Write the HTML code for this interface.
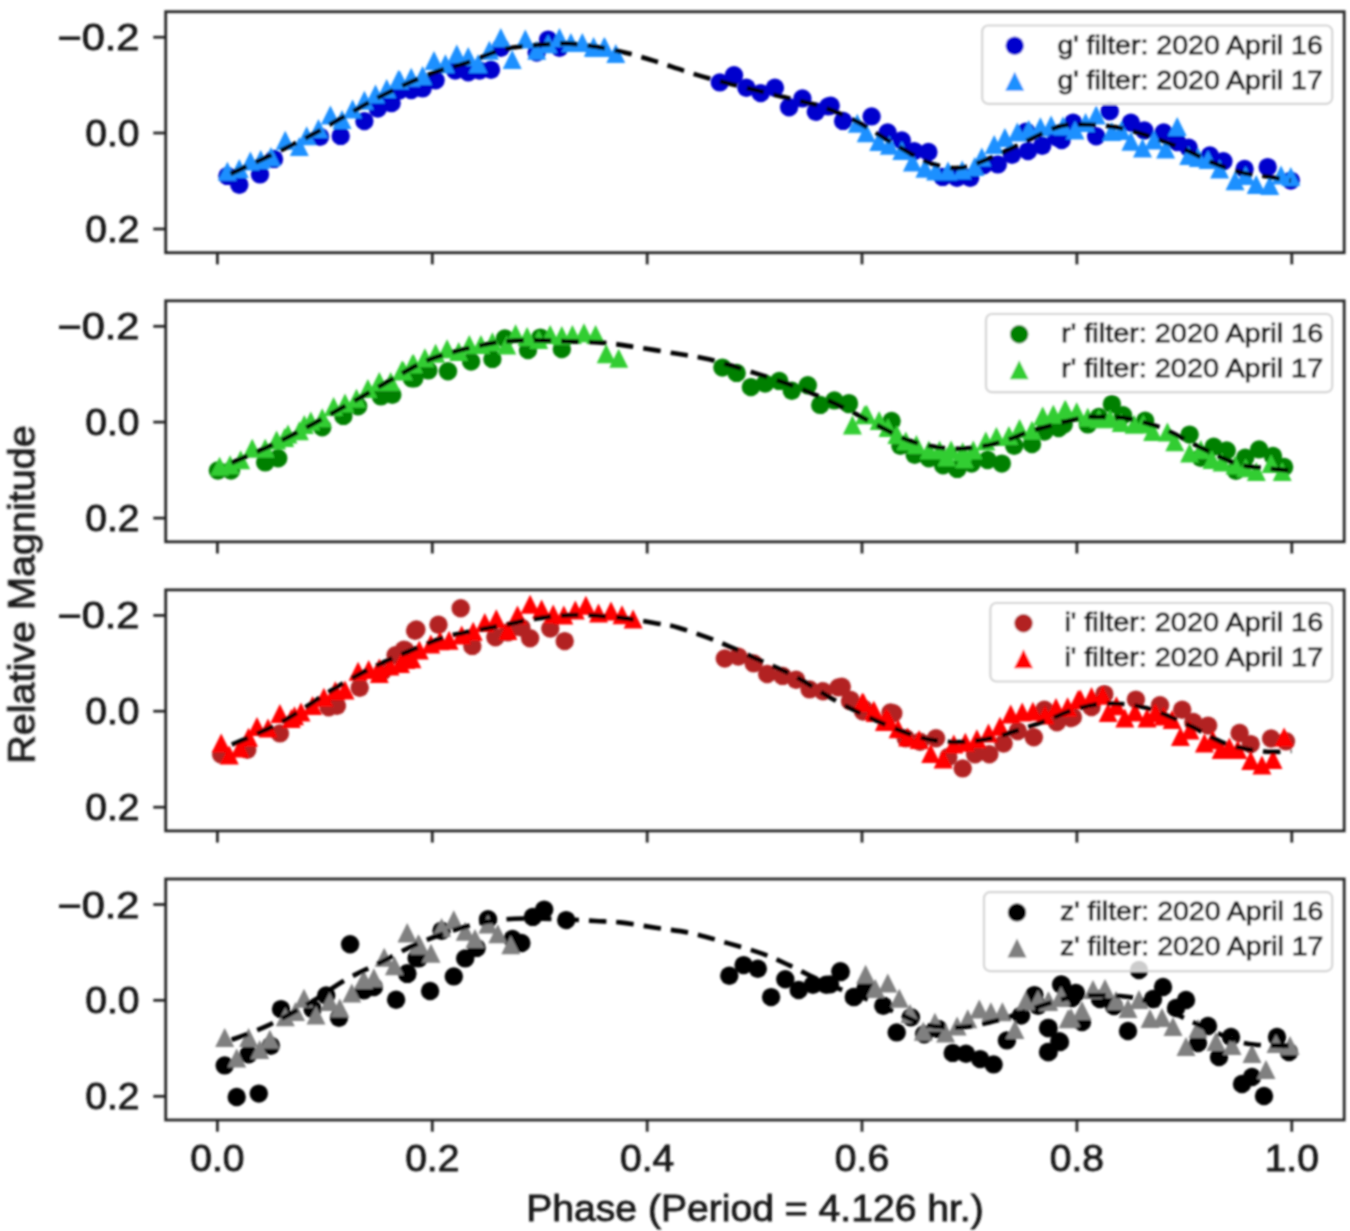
<!DOCTYPE html><html><head><meta charset="utf-8"><style>html,body{margin:0;padding:0;background:#fff;width:1350px;height:1231px;overflow:hidden}svg{display:block}text{font-family:"Liberation Sans",sans-serif;fill:#1a1a1a;stroke:#1a1a1a;stroke-width:0.8}</style></head><body>
<svg width="1350" height="1231" viewBox="0 0 1350 1231">
<defs><filter id="bl" x="0" y="0" width="1350" height="1231" filterUnits="userSpaceOnUse"><feConvolveMatrix order="5" kernelMatrix="0.0050 0.0173 0.0262 0.0173 0.0050 0.0173 0.0598 0.0903 0.0598 0.0173 0.0262 0.0903 0.1366 0.0903 0.0262 0.0173 0.0598 0.0903 0.0598 0.0173 0.0050 0.0173 0.0262 0.0173 0.0050" preserveAlpha="false" edgeMode="duplicate"/></filter></defs><rect width="1350" height="1231" fill="#fff"/><g filter="url(#bl)">
<g clip-path="url(#c0)">
<clipPath id="c0"><rect x="165.7" y="11.7" width="1178.5" height="241.0"/></clipPath>
<g fill="#0000cd"><circle cx="227.4" cy="175.9" r="9.2"/><circle cx="239.3" cy="184.8" r="9.2"/><circle cx="260.0" cy="174.4" r="9.2"/><circle cx="274.0" cy="158.9" r="9.2"/><circle cx="320.0" cy="136.7" r="9.2"/><circle cx="340.7" cy="135.9" r="9.2"/><circle cx="364.4" cy="121.1" r="9.2"/><circle cx="377.8" cy="108.5" r="9.2"/><circle cx="389.6" cy="102.6" r="9.2"/><circle cx="398.5" cy="90.7" r="9.2"/><circle cx="391.6" cy="103.1" r="9.2"/><circle cx="399.8" cy="90.1" r="9.2"/><circle cx="411.2" cy="90.1" r="9.2"/><circle cx="422.6" cy="88.4" r="9.2"/><circle cx="435.6" cy="80.3" r="9.2"/><circle cx="455.2" cy="70.5" r="9.2"/><circle cx="468.2" cy="72.2" r="9.2"/><circle cx="479.6" cy="70.5" r="9.2"/><circle cx="491.0" cy="69.7" r="9.2"/><circle cx="500.8" cy="47.7" r="9.2"/><circle cx="536.7" cy="52.6" r="9.2"/><circle cx="548.1" cy="39.6" r="9.2"/><circle cx="559.5" cy="47.7" r="9.2"/><circle cx="719.8" cy="82.4" r="9.2"/><circle cx="734.0" cy="75.3" r="9.2"/><circle cx="746.4" cy="87.8" r="9.2"/><circle cx="760.7" cy="93.1" r="9.2"/><circle cx="774.9" cy="87.8" r="9.2"/><circle cx="789.1" cy="107.3" r="9.2"/><circle cx="802.4" cy="98.4" r="9.2"/><circle cx="815.8" cy="111.8" r="9.2"/><circle cx="828.2" cy="106.4" r="9.2"/><circle cx="830.7" cy="105.8" r="9.2"/><circle cx="843.1" cy="120.9" r="9.2"/><circle cx="871.6" cy="116.4" r="9.2"/><circle cx="887.6" cy="132.4" r="9.2"/><circle cx="901.8" cy="140.4" r="9.2"/><circle cx="914.2" cy="151.1" r="9.2"/><circle cx="928.4" cy="152.0" r="9.2"/><circle cx="942.7" cy="176.9" r="9.2"/><circle cx="956.9" cy="177.8" r="9.2"/><circle cx="970.2" cy="177.8" r="9.2"/><circle cx="983.6" cy="165.3" r="9.2"/><circle cx="997.8" cy="164.4" r="9.2"/><circle cx="1012.0" cy="154.7" r="9.2"/><circle cx="1028.0" cy="151.1" r="9.2"/><circle cx="1026.2" cy="131.6" r="9.2"/><circle cx="1042.2" cy="145.8" r="9.2"/><circle cx="1056.4" cy="136.9" r="9.2"/><circle cx="1061.6" cy="140.1" r="9.2"/><circle cx="1073.1" cy="122.8" r="9.2"/><circle cx="1096.2" cy="136.2" r="9.2"/><circle cx="1109.7" cy="111.2" r="9.2"/><circle cx="1130.9" cy="122.8" r="9.2"/><circle cx="1144.4" cy="130.5" r="9.2"/><circle cx="1163.7" cy="132.4" r="9.2"/><circle cx="1177.2" cy="142.0" r="9.2"/><circle cx="1188.7" cy="147.8" r="9.2"/><circle cx="1209.9" cy="155.5" r="9.2"/><circle cx="1223.4" cy="161.3" r="9.2"/><circle cx="1244.6" cy="169.0" r="9.2"/><circle cx="1267.7" cy="167.1" r="9.2"/><circle cx="1290.8" cy="180.6" r="9.2"/></g>
<path d="M227.4 161.8l-9.5 19.0h19.0zM239.3 158.9l-9.5 19.0h19.0zM250.4 151.5l-9.5 19.0h19.0zM260.7 150.0l-9.5 19.0h19.0zM271.0 147.0l-9.5 19.0h19.0zM285.2 130.7l-9.5 19.0h19.0zM299.3 136.9l-9.5 19.0h19.0zM306.7 126.3l-9.5 19.0h19.0zM318.5 118.9l-9.5 19.0h19.0zM330.4 105.5l-9.5 19.0h19.0zM342.0 110.0l-9.5 19.0h19.0zM352.6 99.5l-9.5 19.0h19.0zM364.4 90.7l-9.5 19.0h19.0zM386.7 78.9l-9.5 19.0h19.0zM398.5 70.0l-9.5 19.0h19.0zM399.8 70.5l-9.5 19.0h19.0zM411.2 67.8l-9.5 19.0h19.0zM422.6 66.1l-9.5 19.0h19.0zM434.0 51.0l-9.5 19.0h19.0zM445.4 54.2l-9.5 19.0h19.0zM456.8 44.5l-9.5 19.0h19.0zM468.2 46.9l-9.5 19.0h19.0zM478.0 54.2l-9.5 19.0h19.0zM500.8 27.9l-9.5 19.0h19.0zM512.2 49.9l-9.5 19.0h19.0zM525.3 29.5l-9.5 19.0h19.0zM536.7 40.7l-9.5 19.0h19.0zM559.5 28.1l-9.5 19.0h19.0zM570.9 33.0l-9.5 19.0h19.0zM582.3 33.0l-9.5 19.0h19.0zM593.7 37.9l-9.5 19.0h19.0zM605.1 37.9l-9.5 19.0h19.0zM593.6 37.1l-9.5 19.0h19.0zM604.2 37.1l-9.5 19.0h19.0zM615.8 43.9l-9.5 19.0h19.0zM857.3 113.7l-9.5 19.0h19.0zM866.2 123.2l-9.5 19.0h19.0zM878.7 132.1l-9.5 19.0h19.0zM889.3 135.7l-9.5 19.0h19.0zM901.8 141.0l-9.5 19.0h19.0zM912.4 152.6l-9.5 19.0h19.0zM924.9 158.8l-9.5 19.0h19.0zM935.6 161.5l-9.5 19.0h19.0zM948.0 161.5l-9.5 19.0h19.0zM962.2 160.6l-9.5 19.0h19.0zM974.7 157.0l-9.5 19.0h19.0zM981.8 147.5l-9.5 19.0h19.0zM994.2 135.0l-9.5 19.0h19.0zM1004.9 127.9l-9.5 19.0h19.0zM1017.3 122.5l-9.5 19.0h19.0zM1040.4 117.2l-9.5 19.0h19.0zM1051.1 115.4l-9.5 19.0h19.0zM1096.2 105.4l-9.5 19.0h19.0zM1075.0 120.5l-9.5 19.0h19.0zM1111.7 122.1l-9.5 19.0h19.0zM1130.9 131.7l-9.5 19.0h19.0zM1142.5 138.5l-9.5 19.0h19.0zM1165.6 139.5l-9.5 19.0h19.0zM1177.2 116.9l-9.5 19.0h19.0zM1188.7 146.1l-9.5 19.0h19.0zM1208.0 150.0l-9.5 19.0h19.0zM1219.6 159.6l-9.5 19.0h19.0zM1235.0 171.2l-9.5 19.0h19.0zM1256.2 175.0l-9.5 19.0h19.0zM1269.7 176.0l-9.5 19.0h19.0zM1290.8 167.0l-9.5 19.0h19.0zM1281.0 165.5l-9.5 19.0h19.0zM375.5 84.6l-9.5 19.0h19.0zM489.4 40.7l-9.5 19.0h19.0zM548.1 34.3l-9.5 19.0h19.0zM1028.8 120.0l-9.5 19.0h19.0zM1063.0 116.6l-9.5 19.0h19.0zM1085.6 112.9l-9.5 19.0h19.0zM1121.3 120.9l-9.5 19.0h19.0zM1154.0 130.4l-9.5 19.0h19.0zM1198.3 148.0l-9.5 19.0h19.0zM1245.6 166.1l-9.5 19.0h19.0z" fill="#1e90ff"/>
<path d="M226.7 175.6C239.2 169.7 276.8 153.0 302.0 140.0C327.2 127.0 356.4 108.8 377.8 97.8C399.2 86.8 415.6 79.7 430.7 73.8C445.8 67.9 456.0 66.5 468.2 62.4C480.4 58.3 491.2 52.3 504.0 49.3C516.8 46.3 533.9 45.3 544.8 44.4C555.7 43.5 559.8 43.0 569.3 43.6C578.8 44.2 591.6 46.0 601.9 47.7C612.2 49.4 621.6 51.6 630.9 54.0C640.2 56.4 648.7 59.2 657.6 62.0C666.5 64.8 675.3 68.1 684.2 70.9C693.1 73.7 699.9 75.9 710.9 78.9C721.9 81.9 737.5 85.6 750.0 88.7C762.5 91.8 773.8 94.6 785.6 97.6C797.5 100.5 809.4 102.5 821.1 106.4C832.8 110.3 843.9 114.9 855.6 120.9C867.3 126.9 879.2 135.4 891.1 142.2C903.0 149.0 916.3 157.5 926.7 161.8C937.1 166.1 945.9 167.4 953.3 168.0C960.7 168.6 963.7 167.5 971.1 165.3C978.5 163.1 988.9 158.5 997.8 154.7C1006.7 150.8 1014.0 146.9 1024.4 142.2C1034.8 137.4 1049.3 129.1 1060.0 126.2C1070.7 123.3 1078.9 124.5 1088.5 124.7C1098.1 124.9 1107.8 125.8 1117.4 127.6C1127.0 129.4 1135.0 131.6 1146.3 135.3C1157.5 139.0 1173.7 145.0 1184.9 149.7C1196.2 154.3 1204.2 159.3 1213.8 163.2C1223.4 167.1 1234.7 170.8 1242.7 172.9C1250.7 175.0 1254.0 174.4 1262.0 175.7C1270.0 177.0 1286.0 179.8 1290.8 180.6" fill="none" stroke="#000" stroke-width="4.6" stroke-dasharray="17.5 10" stroke-dashoffset="23"/>
</g>
<rect x="165.7" y="11.7" width="1178.5" height="241.0" fill="none" stroke="#262626" stroke-width="2.8"/>
<line x1="153.3" y1="37.2" x2="165.7" y2="37.2" stroke="#262626" stroke-width="2.8"/>
<text x="139.5" y="37.7" font-size="36" text-anchor="end" dominant-baseline="central" textLength="82.1" lengthAdjust="spacingAndGlyphs">−0.2</text>
<line x1="153.3" y1="133.0" x2="165.7" y2="133.0" stroke="#262626" stroke-width="2.8"/>
<text x="139.5" y="133.5" font-size="36" text-anchor="end" dominant-baseline="central" textLength="54.3" lengthAdjust="spacingAndGlyphs">0.0</text>
<line x1="153.3" y1="229.0" x2="165.7" y2="229.0" stroke="#262626" stroke-width="2.8"/>
<text x="139.5" y="229.5" font-size="36" text-anchor="end" dominant-baseline="central" textLength="54.3" lengthAdjust="spacingAndGlyphs">0.2</text>
<line x1="217.4" y1="252.7" x2="217.4" y2="264.4" stroke="#262626" stroke-width="2.8"/>
<line x1="432.3" y1="252.7" x2="432.3" y2="264.4" stroke="#262626" stroke-width="2.8"/>
<line x1="647.2" y1="252.7" x2="647.2" y2="264.4" stroke="#262626" stroke-width="2.8"/>
<line x1="862.0" y1="252.7" x2="862.0" y2="264.4" stroke="#262626" stroke-width="2.8"/>
<line x1="1076.9" y1="252.7" x2="1076.9" y2="264.4" stroke="#262626" stroke-width="2.8"/>
<line x1="1291.8" y1="252.7" x2="1291.8" y2="264.4" stroke="#262626" stroke-width="2.8"/>
<rect x="982.2" y="25.5" width="350.0" height="78.3" rx="6" fill="#fff" fill-opacity="0.8" stroke="#d4d4d4" stroke-width="2.2"/>
<circle cx="1014.7" cy="45.7" r="9.2" fill="#0000cd"/>
<path d="M1014.7 71.8l-9.5 19h19z" fill="#1e90ff"/>
<text x="1057.4" y="53.5" font-size="25" textLength="265.4" lengthAdjust="spacingAndGlyphs">g' filter: 2020 April 16</text>
<text x="1057.4" y="88.5" font-size="25" textLength="265.4" lengthAdjust="spacingAndGlyphs">g' filter: 2020 April 17</text>
<g clip-path="url(#c1)">
<clipPath id="c1"><rect x="165.7" y="300.8" width="1178.5" height="241.0"/></clipPath>
<g fill="#008000"><circle cx="217.9" cy="470.5" r="9.2"/><circle cx="231.0" cy="470.5" r="9.2"/><circle cx="265.2" cy="462.4" r="9.2"/><circle cx="278.2" cy="458.3" r="9.2"/><circle cx="322.2" cy="427.3" r="9.2"/><circle cx="343.4" cy="415.9" r="9.2"/><circle cx="358.1" cy="406.2" r="9.2"/><circle cx="380.9" cy="396.4" r="9.2"/><circle cx="392.3" cy="394.7" r="9.2"/><circle cx="411.9" cy="378.4" r="9.2"/><circle cx="414.2" cy="378.4" r="9.2"/><circle cx="428.4" cy="370.4" r="9.2"/><circle cx="448.0" cy="371.3" r="9.2"/><circle cx="471.1" cy="361.6" r="9.2"/><circle cx="492.4" cy="358.9" r="9.2"/><circle cx="504.9" cy="338.4" r="9.2"/><circle cx="528.0" cy="350.0" r="9.2"/><circle cx="540.4" cy="337.6" r="9.2"/><circle cx="561.8" cy="349.1" r="9.2"/><circle cx="722.4" cy="367.6" r="9.2"/><circle cx="736.7" cy="372.9" r="9.2"/><circle cx="750.9" cy="387.1" r="9.2"/><circle cx="765.1" cy="383.6" r="9.2"/><circle cx="779.3" cy="380.9" r="9.2"/><circle cx="791.8" cy="390.7" r="9.2"/><circle cx="807.8" cy="385.3" r="9.2"/><circle cx="820.2" cy="404.9" r="9.2"/><circle cx="834.4" cy="400.4" r="9.2"/><circle cx="848.7" cy="404.0" r="9.2"/><circle cx="848.9" cy="403.1" r="9.2"/><circle cx="891.6" cy="420.9" r="9.2"/><circle cx="900.4" cy="445.8" r="9.2"/><circle cx="914.7" cy="454.7" r="9.2"/><circle cx="928.9" cy="458.2" r="9.2"/><circle cx="943.1" cy="465.3" r="9.2"/><circle cx="957.3" cy="468.9" r="9.2"/><circle cx="971.6" cy="463.6" r="9.2"/><circle cx="987.6" cy="460.0" r="9.2"/><circle cx="1001.8" cy="463.6" r="9.2"/><circle cx="1014.2" cy="445.8" r="9.2"/><circle cx="1032.0" cy="444.0" r="9.2"/><circle cx="1044.4" cy="431.6" r="9.2"/><circle cx="1058.7" cy="428.0" r="9.2"/><circle cx="1063.7" cy="424.4" r="9.2"/><circle cx="1087.8" cy="424.4" r="9.2"/><circle cx="1098.9" cy="417.0" r="9.2"/><circle cx="1111.9" cy="404.1" r="9.2"/><circle cx="1123.0" cy="415.2" r="9.2"/><circle cx="1145.2" cy="420.7" r="9.2"/><circle cx="1189.6" cy="434.6" r="9.2"/><circle cx="1200.7" cy="457.8" r="9.2"/><circle cx="1213.7" cy="446.7" r="9.2"/><circle cx="1226.7" cy="450.4" r="9.2"/><circle cx="1235.9" cy="470.7" r="9.2"/><circle cx="1245.2" cy="457.8" r="9.2"/><circle cx="1259.1" cy="449.4" r="9.2"/><circle cx="1273.0" cy="455.9" r="9.2"/><circle cx="1284.1" cy="467.0" r="9.2"/></g>
<path d="M219.6 456.7l-9.5 19.0h19.0zM240.7 450.2l-9.5 19.0h19.0zM252.2 438.7l-9.5 19.0h19.0zM265.2 438.7l-9.5 19.0h19.0zM276.6 430.6l-9.5 19.0h19.0zM288.0 424.5l-9.5 19.0h19.0zM299.4 421.3l-9.5 19.0h19.0zM310.8 411.5l-9.5 19.0h19.0zM322.2 408.3l-9.5 19.0h19.0zM333.6 396.9l-9.5 19.0h19.0zM345.0 393.6l-9.5 19.0h19.0zM356.5 388.7l-9.5 19.0h19.0zM367.9 378.9l-9.5 19.0h19.0zM379.3 371.9l-9.5 19.0h19.0zM390.7 371.9l-9.5 19.0h19.0zM402.1 360.5l-9.5 19.0h19.0zM413.5 354.0l-9.5 19.0h19.0zM304.3 414.9l-9.5 19.0h19.0zM284.7 427.9l-9.5 19.0h19.0zM403.6 361.6l-9.5 19.0h19.0zM412.4 354.5l-9.5 19.0h19.0zM424.9 348.2l-9.5 19.0h19.0zM435.6 343.8l-9.5 19.0h19.0zM447.1 339.3l-9.5 19.0h19.0zM458.7 342.0l-9.5 19.0h19.0zM469.3 334.9l-9.5 19.0h19.0zM480.9 334.9l-9.5 19.0h19.0zM492.4 332.2l-9.5 19.0h19.0zM515.6 324.2l-9.5 19.0h19.0zM527.1 326.9l-9.5 19.0h19.0zM550.2 325.1l-9.5 19.0h19.0zM561.8 326.0l-9.5 19.0h19.0zM572.4 325.1l-9.5 19.0h19.0zM584.0 323.3l-9.5 19.0h19.0zM595.6 325.1l-9.5 19.0h19.0zM606.2 344.3l-9.5 19.0h19.0zM618.7 348.8l-9.5 19.0h19.0zM506.7 335.5l-9.5 19.0h19.0zM538.7 330.1l-9.5 19.0h19.0zM864.7 405.2l-9.5 19.0h19.0zM852.4 415.5l-9.5 19.0h19.0zM866.7 404.8l-9.5 19.0h19.0zM879.1 411.0l-9.5 19.0h19.0zM905.8 431.5l-9.5 19.0h19.0zM916.4 435.0l-9.5 19.0h19.0zM928.9 440.4l-9.5 19.0h19.0zM939.6 440.4l-9.5 19.0h19.0zM951.1 440.4l-9.5 19.0h19.0zM962.7 442.2l-9.5 19.0h19.0zM973.3 440.4l-9.5 19.0h19.0zM985.8 431.5l-9.5 19.0h19.0zM996.4 427.0l-9.5 19.0h19.0zM1008.9 426.1l-9.5 19.0h19.0zM1019.6 419.0l-9.5 19.0h19.0zM1032.0 420.8l-9.5 19.0h19.0zM1042.7 406.6l-9.5 19.0h19.0zM1053.3 404.8l-9.5 19.0h19.0zM1064.9 400.3l-9.5 19.0h19.0zM1076.4 403.0l-9.5 19.0h19.0zM964.4 449.2l-9.5 19.0h19.0zM946.7 447.5l-9.5 19.0h19.0zM1065.6 400.3l-9.5 19.0h19.0zM1076.7 402.2l-9.5 19.0h19.0zM1087.8 407.7l-9.5 19.0h19.0zM1121.1 412.9l-9.5 19.0h19.0zM1134.1 414.7l-9.5 19.0h19.0zM1152.6 422.1l-9.5 19.0h19.0zM1167.4 422.5l-9.5 19.0h19.0zM1174.8 432.3l-9.5 19.0h19.0zM1189.6 443.4l-9.5 19.0h19.0zM1211.9 449.9l-9.5 19.0h19.0zM1256.3 461.9l-9.5 19.0h19.0zM1282.2 461.9l-9.5 19.0h19.0zM1271.1 454.0l-9.5 19.0h19.0zM1235.0 455.5l-9.5 19.0h19.0zM1222.0 452.5l-9.5 19.0h19.0zM230.1 455.2l-9.5 19.0h19.0zM888.0 418.1l-9.5 19.0h19.0zM896.9 425.0l-9.5 19.0h19.0zM1098.9 409.3l-9.5 19.0h19.0zM1110.0 409.3l-9.5 19.0h19.0zM1143.3 414.6l-9.5 19.0h19.0zM1200.8 440.1l-9.5 19.0h19.0zM1245.7 458.3l-9.5 19.0h19.0z" fill="#32cd32"/>
<path d="M227.5 464.6C236.5 460.6 264.4 448.8 281.5 440.4C298.6 432.0 314.1 423.3 330.4 414.3C346.7 405.3 364.9 394.8 379.3 386.6C393.7 378.5 406.0 370.8 416.8 365.4C427.6 360.0 432.4 358.0 444.4 354.4C456.4 350.8 475.6 346.2 488.9 343.8C502.2 341.4 512.5 340.6 524.4 340.2C536.2 339.8 546.7 340.7 560.0 341.1C573.3 341.6 592.5 342.0 604.4 342.9C616.2 343.8 619.4 344.7 631.1 346.4C642.8 348.1 661.2 351.1 674.4 353.3C687.5 355.5 696.7 356.3 710.0 359.6C723.3 362.9 739.6 368.2 754.4 372.9C769.2 377.6 784.1 382.2 798.9 388.0C813.7 393.8 830.5 401.5 843.3 407.6C856.1 413.7 864.3 418.8 875.6 424.4C886.9 430.0 899.2 437.3 911.1 441.3C923.0 445.3 936.3 447.3 946.7 448.4C957.1 449.4 964.4 448.6 973.3 447.6C982.2 446.6 989.6 445.2 1000.0 442.2C1010.4 439.2 1022.3 433.8 1035.6 429.8C1048.9 425.8 1069.8 420.3 1080.0 418.2C1090.2 416.1 1089.5 417.0 1097.0 417.0C1104.5 417.0 1114.0 416.1 1124.8 418.0C1135.6 419.9 1149.6 423.3 1161.9 428.1C1174.2 432.9 1186.6 440.8 1198.9 446.7C1211.2 452.6 1225.1 459.8 1235.9 463.3C1246.7 466.9 1254.4 466.8 1263.7 468.0C1273.0 469.2 1286.9 470.2 1291.5 470.7" fill="none" stroke="#000" stroke-width="4.6" stroke-dasharray="17.5 10" stroke-dashoffset="23"/>
</g>
<rect x="165.7" y="300.8" width="1178.5" height="241.0" fill="none" stroke="#262626" stroke-width="2.8"/>
<line x1="153.3" y1="326.3" x2="165.7" y2="326.3" stroke="#262626" stroke-width="2.8"/>
<text x="139.5" y="326.8" font-size="36" text-anchor="end" dominant-baseline="central" textLength="82.1" lengthAdjust="spacingAndGlyphs">−0.2</text>
<line x1="153.3" y1="422.1" x2="165.7" y2="422.1" stroke="#262626" stroke-width="2.8"/>
<text x="139.5" y="422.6" font-size="36" text-anchor="end" dominant-baseline="central" textLength="54.3" lengthAdjust="spacingAndGlyphs">0.0</text>
<line x1="153.3" y1="518.1" x2="165.7" y2="518.1" stroke="#262626" stroke-width="2.8"/>
<text x="139.5" y="518.6" font-size="36" text-anchor="end" dominant-baseline="central" textLength="54.3" lengthAdjust="spacingAndGlyphs">0.2</text>
<line x1="217.4" y1="541.8" x2="217.4" y2="553.5" stroke="#262626" stroke-width="2.8"/>
<line x1="432.3" y1="541.8" x2="432.3" y2="553.5" stroke="#262626" stroke-width="2.8"/>
<line x1="647.2" y1="541.8" x2="647.2" y2="553.5" stroke="#262626" stroke-width="2.8"/>
<line x1="862.0" y1="541.8" x2="862.0" y2="553.5" stroke="#262626" stroke-width="2.8"/>
<line x1="1076.9" y1="541.8" x2="1076.9" y2="553.5" stroke="#262626" stroke-width="2.8"/>
<line x1="1291.8" y1="541.8" x2="1291.8" y2="553.5" stroke="#262626" stroke-width="2.8"/>
<rect x="986.0" y="314.0" width="346.2" height="78.2" rx="6" fill="#fff" fill-opacity="0.8" stroke="#d4d4d4" stroke-width="2.2"/>
<circle cx="1019.2" cy="334.2" r="9.2" fill="#008000"/>
<path d="M1019.2 360.3l-9.5 19h19z" fill="#32cd32"/>
<text x="1061.2" y="342.0" font-size="25" textLength="262.0" lengthAdjust="spacingAndGlyphs">r' filter: 2020 April 16</text>
<text x="1061.2" y="377.0" font-size="25" textLength="262.0" lengthAdjust="spacingAndGlyphs">r' filter: 2020 April 17</text>
<g clip-path="url(#c2)">
<clipPath id="c2"><rect x="165.7" y="589.9" width="1178.5" height="241.0"/></clipPath>
<g fill="#b22222"><circle cx="221.2" cy="754.6" r="9.2"/><circle cx="247.3" cy="749.7" r="9.2"/><circle cx="279.9" cy="733.4" r="9.2"/><circle cx="328.7" cy="707.3" r="9.2"/><circle cx="336.9" cy="705.7" r="9.2"/><circle cx="359.7" cy="687.8" r="9.2"/><circle cx="382.5" cy="671.5" r="9.2"/><circle cx="395.6" cy="655.2" r="9.2"/><circle cx="405.3" cy="650.3" r="9.2"/><circle cx="415.1" cy="630.7" r="9.2"/><circle cx="403.9" cy="649.7" r="9.2"/><circle cx="416.4" cy="629.5" r="9.2"/><circle cx="438.5" cy="624.7" r="9.2"/><circle cx="460.7" cy="608.3" r="9.2"/><circle cx="472.3" cy="645.9" r="9.2"/><circle cx="495.4" cy="637.2" r="9.2"/><circle cx="507.9" cy="632.4" r="9.2"/><circle cx="521.4" cy="627.6" r="9.2"/><circle cx="530.1" cy="638.2" r="9.2"/><circle cx="550.3" cy="628.5" r="9.2"/><circle cx="564.7" cy="641.1" r="9.2"/><circle cx="724.8" cy="658.5" r="9.2"/><circle cx="738.3" cy="656.6" r="9.2"/><circle cx="753.7" cy="663.4" r="9.2"/><circle cx="767.2" cy="674.0" r="9.2"/><circle cx="782.6" cy="675.9" r="9.2"/><circle cx="796.1" cy="679.7" r="9.2"/><circle cx="809.6" cy="689.4" r="9.2"/><circle cx="823.0" cy="691.3" r="9.2"/><circle cx="838.5" cy="687.4" r="9.2"/><circle cx="850.0" cy="700.9" r="9.2"/><circle cx="863.5" cy="708.6" r="9.2"/><circle cx="890.5" cy="712.5" r="9.2"/><circle cx="841.8" cy="686.7" r="9.2"/><circle cx="850.7" cy="700.0" r="9.2"/><circle cx="863.1" cy="711.6" r="9.2"/><circle cx="893.3" cy="713.3" r="9.2"/><circle cx="905.8" cy="738.2" r="9.2"/><circle cx="920.0" cy="741.8" r="9.2"/><circle cx="936.0" cy="738.2" r="9.2"/><circle cx="948.4" cy="756.9" r="9.2"/><circle cx="962.7" cy="768.4" r="9.2"/><circle cx="975.1" cy="754.2" r="9.2"/><circle cx="989.3" cy="754.2" r="9.2"/><circle cx="1003.6" cy="743.6" r="9.2"/><circle cx="1017.8" cy="731.1" r="9.2"/><circle cx="1033.8" cy="737.3" r="9.2"/><circle cx="1044.4" cy="709.8" r="9.2"/><circle cx="1056.9" cy="722.2" r="9.2"/><circle cx="1072.9" cy="716.9" r="9.2"/><circle cx="1071.1" cy="718.1" r="9.2"/><circle cx="1091.5" cy="707.0" r="9.2"/><circle cx="1104.4" cy="694.1" r="9.2"/><circle cx="1135.9" cy="699.6" r="9.2"/><circle cx="1160.0" cy="705.2" r="9.2"/><circle cx="1182.2" cy="709.8" r="9.2"/><circle cx="1193.3" cy="721.9" r="9.2"/><circle cx="1208.1" cy="725.6" r="9.2"/><circle cx="1239.6" cy="733.0" r="9.2"/><circle cx="1250.7" cy="744.1" r="9.2"/><circle cx="1271.1" cy="738.5" r="9.2"/><circle cx="1285.9" cy="741.3" r="9.2"/></g>
<path d="M221.2 733.4l-9.5 19.0h19.0zM229.3 745.4l-9.5 19.0h19.0zM257.0 717.1l-9.5 19.0h19.0zM279.9 704.0l-9.5 19.0h19.0zM291.3 708.9l-9.5 19.0h19.0zM294.5 706.3l-9.5 19.0h19.0zM301.0 702.4l-9.5 19.0h19.0zM312.5 695.9l-9.5 19.0h19.0zM323.9 687.8l-9.5 19.0h19.0zM335.3 681.3l-9.5 19.0h19.0zM358.1 661.7l-9.5 19.0h19.0zM379.3 658.5l-9.5 19.0h19.0zM379.3 663.9l-9.5 19.0h19.0zM400.5 654.1l-9.5 19.0h19.0zM411.9 649.2l-9.5 19.0h19.0zM240.0 738.5l-9.5 19.0h19.0zM268.0 718.5l-9.5 19.0h19.0zM345.0 680.5l-9.5 19.0h19.0zM390.0 656.5l-9.5 19.0h19.0zM405.8 650.0l-9.5 19.0h19.0zM419.3 640.4l-9.5 19.0h19.0zM430.8 634.6l-9.5 19.0h19.0zM449.1 630.7l-9.5 19.0h19.0zM461.7 625.6l-9.5 19.0h19.0zM473.2 621.8l-9.5 19.0h19.0zM484.8 613.1l-9.5 19.0h19.0zM496.3 609.2l-9.5 19.0h19.0zM507.9 621.1l-9.5 19.0h19.0zM517.5 605.4l-9.5 19.0h19.0zM530.1 594.8l-9.5 19.0h19.0zM541.6 599.6l-9.5 19.0h19.0zM553.2 604.5l-9.5 19.0h19.0zM563.8 605.4l-9.5 19.0h19.0zM575.3 600.6l-9.5 19.0h19.0zM585.9 595.7l-9.5 19.0h19.0zM598.5 603.5l-9.5 19.0h19.0zM611.0 601.5l-9.5 19.0h19.0zM633.1 609.5l-9.5 19.0h19.0zM863.5 693.2l-9.5 19.0h19.0zM875.1 703.0l-9.5 19.0h19.0zM888.6 710.8l-9.5 19.0h19.0zM862.2 692.8l-9.5 19.0h19.0zM873.8 700.8l-9.5 19.0h19.0zM886.2 707.9l-9.5 19.0h19.0zM884.4 712.1l-9.5 19.0h19.0zM907.6 727.4l-9.5 19.0h19.0zM919.1 730.1l-9.5 19.0h19.0zM930.7 744.1l-9.5 19.0h19.0zM943.1 749.5l-9.5 19.0h19.0zM953.8 734.5l-9.5 19.0h19.0zM965.3 732.8l-9.5 19.0h19.0zM976.9 729.2l-9.5 19.0h19.0zM1000.0 716.8l-9.5 19.0h19.0zM1010.7 704.4l-9.5 19.0h19.0zM1022.2 702.6l-9.5 19.0h19.0zM1032.9 701.7l-9.5 19.0h19.0zM1056.0 698.1l-9.5 19.0h19.0zM1067.6 697.2l-9.5 19.0h19.0zM1078.2 690.1l-9.5 19.0h19.0zM1045.0 705.5l-9.5 19.0h19.0zM1067.4 697.7l-9.5 19.0h19.0zM1080.4 689.4l-9.5 19.0h19.0zM1102.6 685.7l-9.5 19.0h19.0zM1108.1 702.9l-9.5 19.0h19.0zM1124.8 708.4l-9.5 19.0h19.0zM1147.0 708.4l-9.5 19.0h19.0zM1163.7 706.5l-9.5 19.0h19.0zM1180.4 726.9l-9.5 19.0h19.0zM1204.4 733.4l-9.5 19.0h19.0zM1221.1 739.9l-9.5 19.0h19.0zM1237.8 739.9l-9.5 19.0h19.0zM1250.7 751.0l-9.5 19.0h19.0zM1261.9 755.6l-9.5 19.0h19.0zM1273.0 750.1l-9.5 19.0h19.0zM1284.1 727.4l-9.5 19.0h19.0zM1135.0 702.5l-9.5 19.0h19.0zM1190.0 720.5l-9.5 19.0h19.0zM248.5 727.8l-9.5 19.0h19.0zM368.7 659.9l-9.5 19.0h19.0zM440.0 631.2l-9.5 19.0h19.0zM622.0 605.3l-9.5 19.0h19.0zM898.1 719.2l-9.5 19.0h19.0zM988.5 723.5l-9.5 19.0h19.0zM1091.5 686.9l-9.5 19.0h19.0zM1116.4 696.2l-9.5 19.0h19.0zM1155.3 703.2l-9.5 19.0h19.0zM1172.1 710.1l-9.5 19.0h19.0zM1212.8 730.3l-9.5 19.0h19.0zM1229.4 737.5l-9.5 19.0h19.0z" fill="#ff0000"/>
<path d="M227.7 746.5C236.7 742.4 264.4 731.2 281.5 722.0C298.6 712.8 315.5 700.0 330.4 691.0C345.3 682.0 357.0 675.2 371.1 668.2C385.2 661.2 402.2 654.0 415.1 648.7C428.0 643.4 434.7 639.9 448.2 636.2C461.7 632.5 481.9 629.5 496.3 626.6C510.8 623.7 522.0 620.8 534.9 618.9C547.8 617.0 558.9 615.2 573.4 615.0C587.9 614.8 607.5 616.4 621.6 617.9C635.7 619.4 648.7 622.1 658.2 623.7C667.7 625.3 668.7 624.8 678.5 627.7C688.3 630.6 704.2 636.1 717.1 641.2C730.0 646.3 742.8 652.7 755.6 658.5C768.4 664.3 781.2 669.1 794.1 675.9C807.0 682.6 819.9 691.9 832.7 699.0C845.6 706.1 858.1 712.3 871.2 718.3C884.3 724.2 900.0 730.9 911.1 734.7C922.2 738.5 928.9 739.7 937.8 740.9C946.7 742.1 955.5 742.2 964.4 741.8C973.3 741.3 982.2 740.1 991.1 738.2C1000.0 736.3 1008.9 733.0 1017.8 730.2C1026.7 727.4 1035.5 724.5 1044.4 721.3C1053.3 718.0 1062.3 713.5 1071.1 710.7C1079.9 707.9 1088.0 705.4 1097.0 704.3C1106.0 703.2 1115.5 703.4 1124.8 704.3C1134.1 705.2 1141.8 706.2 1152.6 709.8C1163.4 713.3 1177.2 719.9 1189.6 725.6C1201.9 731.3 1214.3 739.8 1226.7 744.1C1239.1 748.4 1252.9 750.4 1263.7 751.5C1274.5 752.6 1286.9 751.1 1291.5 751.0" fill="none" stroke="#000" stroke-width="4.6" stroke-dasharray="17.5 10" stroke-dashoffset="23"/>
</g>
<rect x="165.7" y="589.9" width="1178.5" height="241.0" fill="none" stroke="#262626" stroke-width="2.8"/>
<line x1="153.3" y1="615.4" x2="165.7" y2="615.4" stroke="#262626" stroke-width="2.8"/>
<text x="139.5" y="615.9" font-size="36" text-anchor="end" dominant-baseline="central" textLength="82.1" lengthAdjust="spacingAndGlyphs">−0.2</text>
<line x1="153.3" y1="711.2" x2="165.7" y2="711.2" stroke="#262626" stroke-width="2.8"/>
<text x="139.5" y="711.7" font-size="36" text-anchor="end" dominant-baseline="central" textLength="54.3" lengthAdjust="spacingAndGlyphs">0.0</text>
<line x1="153.3" y1="807.2" x2="165.7" y2="807.2" stroke="#262626" stroke-width="2.8"/>
<text x="139.5" y="807.7" font-size="36" text-anchor="end" dominant-baseline="central" textLength="54.3" lengthAdjust="spacingAndGlyphs">0.2</text>
<line x1="217.4" y1="830.9" x2="217.4" y2="842.6" stroke="#262626" stroke-width="2.8"/>
<line x1="432.3" y1="830.9" x2="432.3" y2="842.6" stroke="#262626" stroke-width="2.8"/>
<line x1="647.2" y1="830.9" x2="647.2" y2="842.6" stroke="#262626" stroke-width="2.8"/>
<line x1="862.0" y1="830.9" x2="862.0" y2="842.6" stroke="#262626" stroke-width="2.8"/>
<line x1="1076.9" y1="830.9" x2="1076.9" y2="842.6" stroke="#262626" stroke-width="2.8"/>
<line x1="1291.8" y1="830.9" x2="1291.8" y2="842.6" stroke="#262626" stroke-width="2.8"/>
<rect x="990.4" y="603.0" width="341.8" height="78.5" rx="6" fill="#fff" fill-opacity="0.8" stroke="#d4d4d4" stroke-width="2.2"/>
<circle cx="1023.5" cy="623.2" r="9.2" fill="#b22222"/>
<path d="M1023.5 649.3l-9.5 19h19z" fill="#ff0000"/>
<text x="1064.4" y="631.0" font-size="25" textLength="258.8" lengthAdjust="spacingAndGlyphs">i' filter: 2020 April 16</text>
<text x="1064.4" y="666.0" font-size="25" textLength="258.8" lengthAdjust="spacingAndGlyphs">i' filter: 2020 April 17</text>
<g clip-path="url(#c3)">
<clipPath id="c3"><rect x="165.7" y="879.0" width="1178.5" height="241.0"/></clipPath>
<g fill="#000000"><circle cx="224.7" cy="1065.4" r="9.2"/><circle cx="236.7" cy="1097.0" r="9.2"/><circle cx="258.8" cy="1093.6" r="9.2"/><circle cx="248.6" cy="1054.3" r="9.2"/><circle cx="270.8" cy="1045.8" r="9.2"/><circle cx="281.0" cy="1009.1" r="9.2"/><circle cx="312.6" cy="1009.1" r="9.2"/><circle cx="339.0" cy="1017.7" r="9.2"/><circle cx="326.2" cy="995.5" r="9.2"/><circle cx="350.1" cy="944.3" r="9.2"/><circle cx="363.7" cy="990.4" r="9.2"/><circle cx="373.9" cy="987.0" r="9.2"/><circle cx="396.1" cy="999.8" r="9.2"/><circle cx="407.2" cy="973.3" r="9.2"/><circle cx="416.6" cy="958.0" r="9.2"/><circle cx="407.3" cy="973.9" r="9.2"/><circle cx="418.7" cy="958.4" r="9.2"/><circle cx="430.1" cy="991.0" r="9.2"/><circle cx="441.6" cy="930.7" r="9.2"/><circle cx="453.8" cy="976.4" r="9.2"/><circle cx="465.2" cy="958.4" r="9.2"/><circle cx="476.6" cy="947.9" r="9.2"/><circle cx="488.0" cy="919.3" r="9.2"/><circle cx="512.5" cy="938.9" r="9.2"/><circle cx="521.4" cy="943.0" r="9.2"/><circle cx="532.8" cy="916.9" r="9.2"/><circle cx="544.2" cy="909.6" r="9.2"/><circle cx="566.2" cy="920.1" r="9.2"/><circle cx="729.3" cy="975.8" r="9.2"/><circle cx="743.6" cy="965.1" r="9.2"/><circle cx="757.8" cy="968.7" r="9.2"/><circle cx="771.1" cy="997.1" r="9.2"/><circle cx="785.3" cy="979.3" r="9.2"/><circle cx="798.7" cy="990.0" r="9.2"/><circle cx="812.9" cy="984.7" r="9.2"/><circle cx="826.2" cy="984.7" r="9.2"/><circle cx="840.4" cy="971.3" r="9.2"/><circle cx="853.8" cy="997.1" r="9.2"/><circle cx="830.0" cy="984.4" r="9.2"/><circle cx="840.7" cy="972.0" r="9.2"/><circle cx="854.0" cy="996.9" r="9.2"/><circle cx="865.6" cy="988.0" r="9.2"/><circle cx="883.3" cy="1005.8" r="9.2"/><circle cx="896.7" cy="1032.4" r="9.2"/><circle cx="910.9" cy="1017.3" r="9.2"/><circle cx="924.2" cy="1034.2" r="9.2"/><circle cx="938.4" cy="1028.9" r="9.2"/><circle cx="952.7" cy="1052.9" r="9.2"/><circle cx="966.0" cy="1053.8" r="9.2"/><circle cx="980.2" cy="1059.1" r="9.2"/><circle cx="993.6" cy="1064.4" r="9.2"/><circle cx="1006.9" cy="1040.4" r="9.2"/><circle cx="1021.1" cy="1015.6" r="9.2"/><circle cx="1034.4" cy="995.1" r="9.2"/><circle cx="1038.0" cy="1005.8" r="9.2"/><circle cx="1048.7" cy="1028.0" r="9.2"/><circle cx="1059.3" cy="1041.3" r="9.2"/><circle cx="1048.7" cy="1052.0" r="9.2"/><circle cx="1061.1" cy="984.4" r="9.2"/><circle cx="1062.0" cy="985.0" r="9.2"/><circle cx="1076.0" cy="993.0" r="9.2"/><circle cx="1072.0" cy="998.0" r="9.2"/><circle cx="1048.0" cy="1028.0" r="9.2"/><circle cx="1060.0" cy="1042.0" r="9.2"/><circle cx="1048.0" cy="1052.0" r="9.2"/><circle cx="1082.0" cy="1022.0" r="9.2"/><circle cx="1100.0" cy="999.0" r="9.2"/><circle cx="1114.0" cy="1006.0" r="9.2"/><circle cx="1128.0" cy="1031.0" r="9.2"/><circle cx="1139.0" cy="970.0" r="9.2"/><circle cx="1153.0" cy="999.0" r="9.2"/><circle cx="1163.0" cy="987.0" r="9.2"/><circle cx="1176.0" cy="1008.0" r="9.2"/><circle cx="1186.0" cy="1000.0" r="9.2"/><circle cx="1198.0" cy="1043.0" r="9.2"/><circle cx="1208.0" cy="1026.0" r="9.2"/><circle cx="1219.0" cy="1057.0" r="9.2"/><circle cx="1231.0" cy="1037.0" r="9.2"/><circle cx="1242.0" cy="1084.0" r="9.2"/><circle cx="1252.0" cy="1077.0" r="9.2"/><circle cx="1264.0" cy="1096.0" r="9.2"/><circle cx="1277.0" cy="1037.0" r="9.2"/><circle cx="1289.0" cy="1052.0" r="9.2"/></g>
<path d="M224.7 1027.9l-9.5 19.0h19.0zM236.7 1048.4l-9.5 19.0h19.0zM248.6 1027.9l-9.5 19.0h19.0zM259.7 1039.9l-9.5 19.0h19.0zM269.9 1029.7l-9.5 19.0h19.0zM285.3 1007.2l-9.5 19.0h19.0zM295.5 1002.1l-9.5 19.0h19.0zM304.0 988.7l-9.5 19.0h19.0zM316.0 1005.5l-9.5 19.0h19.0zM329.6 992.1l-9.5 19.0h19.0zM339.8 998.4l-9.5 19.0h19.0zM351.8 983.6l-9.5 19.0h19.0zM363.7 970.0l-9.5 19.0h19.0zM373.9 968.3l-9.5 19.0h19.0zM384.2 947.8l-9.5 19.0h19.0zM394.4 956.3l-9.5 19.0h19.0zM407.2 923.1l-9.5 19.0h19.0zM418.3 934.2l-9.5 19.0h19.0zM407.3 923.4l-9.5 19.0h19.0zM419.6 935.7l-9.5 19.0h19.0zM431.0 943.7l-9.5 19.0h19.0zM441.6 917.9l-9.5 19.0h19.0zM453.8 910.3l-9.5 19.0h19.0zM465.2 921.7l-9.5 19.0h19.0zM475.0 929.0l-9.5 19.0h19.0zM488.0 914.4l-9.5 19.0h19.0zM497.8 924.2l-9.5 19.0h19.0zM510.8 935.3l-9.5 19.0h19.0zM865.6 964.8l-9.5 19.0h19.0zM875.3 978.9l-9.5 19.0h19.0zM887.8 973.6l-9.5 19.0h19.0zM899.3 988.7l-9.5 19.0h19.0zM910.0 1003.9l-9.5 19.0h19.0zM923.3 1021.7l-9.5 19.0h19.0zM934.9 1012.8l-9.5 19.0h19.0zM945.6 1023.5l-9.5 19.0h19.0zM957.1 1016.4l-9.5 19.0h19.0zM967.8 1009.3l-9.5 19.0h19.0zM979.3 999.5l-9.5 19.0h19.0zM990.9 1002.2l-9.5 19.0h19.0zM1002.4 1002.2l-9.5 19.0h19.0zM1014.9 1019.9l-9.5 19.0h19.0zM1025.6 991.5l-9.5 19.0h19.0zM1038.0 989.7l-9.5 19.0h19.0zM1048.7 991.5l-9.5 19.0h19.0zM1061.1 986.1l-9.5 19.0h19.0zM1068.2 1009.3l-9.5 19.0h19.0zM1048.0 992.0l-9.5 19.0h19.0zM1060.0 988.0l-9.5 19.0h19.0zM1071.0 1008.0l-9.5 19.0h19.0zM1082.0 1001.0l-9.5 19.0h19.0zM1093.0 980.0l-9.5 19.0h19.0zM1105.0 979.0l-9.5 19.0h19.0zM1116.0 991.0l-9.5 19.0h19.0zM1128.0 999.0l-9.5 19.0h19.0zM1139.0 990.0l-9.5 19.0h19.0zM1150.0 1009.0l-9.5 19.0h19.0zM1162.0 1008.0l-9.5 19.0h19.0zM1173.0 1017.0l-9.5 19.0h19.0zM1186.0 1037.0l-9.5 19.0h19.0zM1198.0 1019.0l-9.5 19.0h19.0zM1216.0 1032.0l-9.5 19.0h19.0zM1232.0 1036.0l-9.5 19.0h19.0zM1252.0 1044.0l-9.5 19.0h19.0zM1266.0 1060.0l-9.5 19.0h19.0zM1276.0 1034.0l-9.5 19.0h19.0zM1290.0 1036.0l-9.5 19.0h19.0z" fill="#808080"/>
<path d="M227.3 1041.5C234.1 1038.8 254.3 1031.8 268.2 1025.3C282.1 1018.8 298.0 1009.8 310.8 1002.3C323.6 994.8 333.6 986.6 345.0 980.1C356.4 973.6 366.6 969.4 379.1 963.1C391.6 956.9 405.6 948.7 420.0 942.6C434.4 936.5 452.2 930.5 465.2 926.7C478.2 923.0 486.9 921.5 497.8 920.1C508.7 918.7 519.5 918.6 530.4 918.5C541.3 918.4 552.1 918.9 563.0 919.3C573.9 919.7 586.1 920.5 595.6 921.0C605.1 921.5 610.0 921.3 620.0 922.4C630.0 923.5 643.8 926.0 655.6 927.8C667.5 929.6 679.2 930.6 691.1 933.1C703.0 935.6 714.9 939.5 726.7 942.9C738.6 946.3 751.8 949.9 762.2 953.6C772.6 957.3 780.0 961.0 788.9 965.1C797.8 969.2 806.7 974.2 815.6 978.4C824.5 982.5 833.9 986.6 842.2 990.0C850.5 993.4 855.8 994.6 865.6 998.7C875.4 1002.8 890.7 1010.3 901.1 1014.7C911.5 1019.1 917.4 1023.2 927.8 1025.3C938.2 1027.4 951.4 1028.0 963.3 1027.1C975.1 1026.2 988.5 1022.7 998.9 1020.0C1009.3 1017.3 1016.7 1014.1 1025.6 1011.1C1034.5 1008.1 1043.1 1004.7 1052.2 1002.2C1061.3 999.7 1068.7 997.0 1080.0 996.0C1091.3 995.0 1108.3 995.0 1120.0 996.0C1131.7 997.0 1140.0 998.7 1150.0 1002.0C1160.0 1005.3 1170.0 1011.3 1180.0 1016.0C1190.0 1020.7 1200.0 1025.7 1210.0 1030.0C1220.0 1034.3 1231.7 1039.5 1240.0 1042.0C1248.3 1044.5 1251.4 1044.3 1260.0 1045.0C1268.6 1045.7 1286.2 1045.8 1291.5 1046.0" fill="none" stroke="#000" stroke-width="4.6" stroke-dasharray="17.5 10" stroke-dashoffset="23"/>
</g>
<rect x="165.7" y="879.0" width="1178.5" height="241.0" fill="none" stroke="#262626" stroke-width="2.8"/>
<line x1="153.3" y1="904.5" x2="165.7" y2="904.5" stroke="#262626" stroke-width="2.8"/>
<text x="139.5" y="905.0" font-size="36" text-anchor="end" dominant-baseline="central" textLength="82.1" lengthAdjust="spacingAndGlyphs">−0.2</text>
<line x1="153.3" y1="1000.3" x2="165.7" y2="1000.3" stroke="#262626" stroke-width="2.8"/>
<text x="139.5" y="1000.8" font-size="36" text-anchor="end" dominant-baseline="central" textLength="54.3" lengthAdjust="spacingAndGlyphs">0.0</text>
<line x1="153.3" y1="1096.3" x2="165.7" y2="1096.3" stroke="#262626" stroke-width="2.8"/>
<text x="139.5" y="1096.8" font-size="36" text-anchor="end" dominant-baseline="central" textLength="54.3" lengthAdjust="spacingAndGlyphs">0.2</text>
<line x1="217.4" y1="1120.0" x2="217.4" y2="1131.7" stroke="#262626" stroke-width="2.8"/>
<text x="217.4" y="1171" font-size="36" text-anchor="middle" textLength="54.3" lengthAdjust="spacingAndGlyphs">0.0</text>
<line x1="432.3" y1="1120.0" x2="432.3" y2="1131.7" stroke="#262626" stroke-width="2.8"/>
<text x="432.3" y="1171" font-size="36" text-anchor="middle" textLength="54.3" lengthAdjust="spacingAndGlyphs">0.2</text>
<line x1="647.2" y1="1120.0" x2="647.2" y2="1131.7" stroke="#262626" stroke-width="2.8"/>
<text x="647.2" y="1171" font-size="36" text-anchor="middle" textLength="54.3" lengthAdjust="spacingAndGlyphs">0.4</text>
<line x1="862.0" y1="1120.0" x2="862.0" y2="1131.7" stroke="#262626" stroke-width="2.8"/>
<text x="862.0" y="1171" font-size="36" text-anchor="middle" textLength="54.3" lengthAdjust="spacingAndGlyphs">0.6</text>
<line x1="1076.9" y1="1120.0" x2="1076.9" y2="1131.7" stroke="#262626" stroke-width="2.8"/>
<text x="1076.9" y="1171" font-size="36" text-anchor="middle" textLength="54.3" lengthAdjust="spacingAndGlyphs">0.8</text>
<line x1="1291.8" y1="1120.0" x2="1291.8" y2="1131.7" stroke="#262626" stroke-width="2.8"/>
<text x="1291.8" y="1171" font-size="36" text-anchor="middle" textLength="54.3" lengthAdjust="spacingAndGlyphs">1.0</text>
<rect x="984.0" y="892.2" width="348.2" height="78.9" rx="6" fill="#fff" fill-opacity="0.8" stroke="#d4d4d4" stroke-width="2.2"/>
<circle cx="1017.0" cy="912.4" r="9.2" fill="#000000"/>
<path d="M1017.0 938.5l-9.5 19h19z" fill="#808080"/>
<text x="1060.0" y="920.2" font-size="25" textLength="263.4" lengthAdjust="spacingAndGlyphs">z' filter: 2020 April 16</text>
<text x="1060.0" y="955.2" font-size="25" textLength="263.4" lengthAdjust="spacingAndGlyphs">z' filter: 2020 April 17</text>
<text x="755" y="1221" font-size="36" text-anchor="middle" textLength="457.5" lengthAdjust="spacingAndGlyphs">Phase (Period = 4.126 hr.)</text>
<text transform="translate(34.4 594.5) rotate(-90)" font-size="36" text-anchor="middle" textLength="338.7" lengthAdjust="spacingAndGlyphs">Relative Magnitude</text>
</g></svg></body></html>
